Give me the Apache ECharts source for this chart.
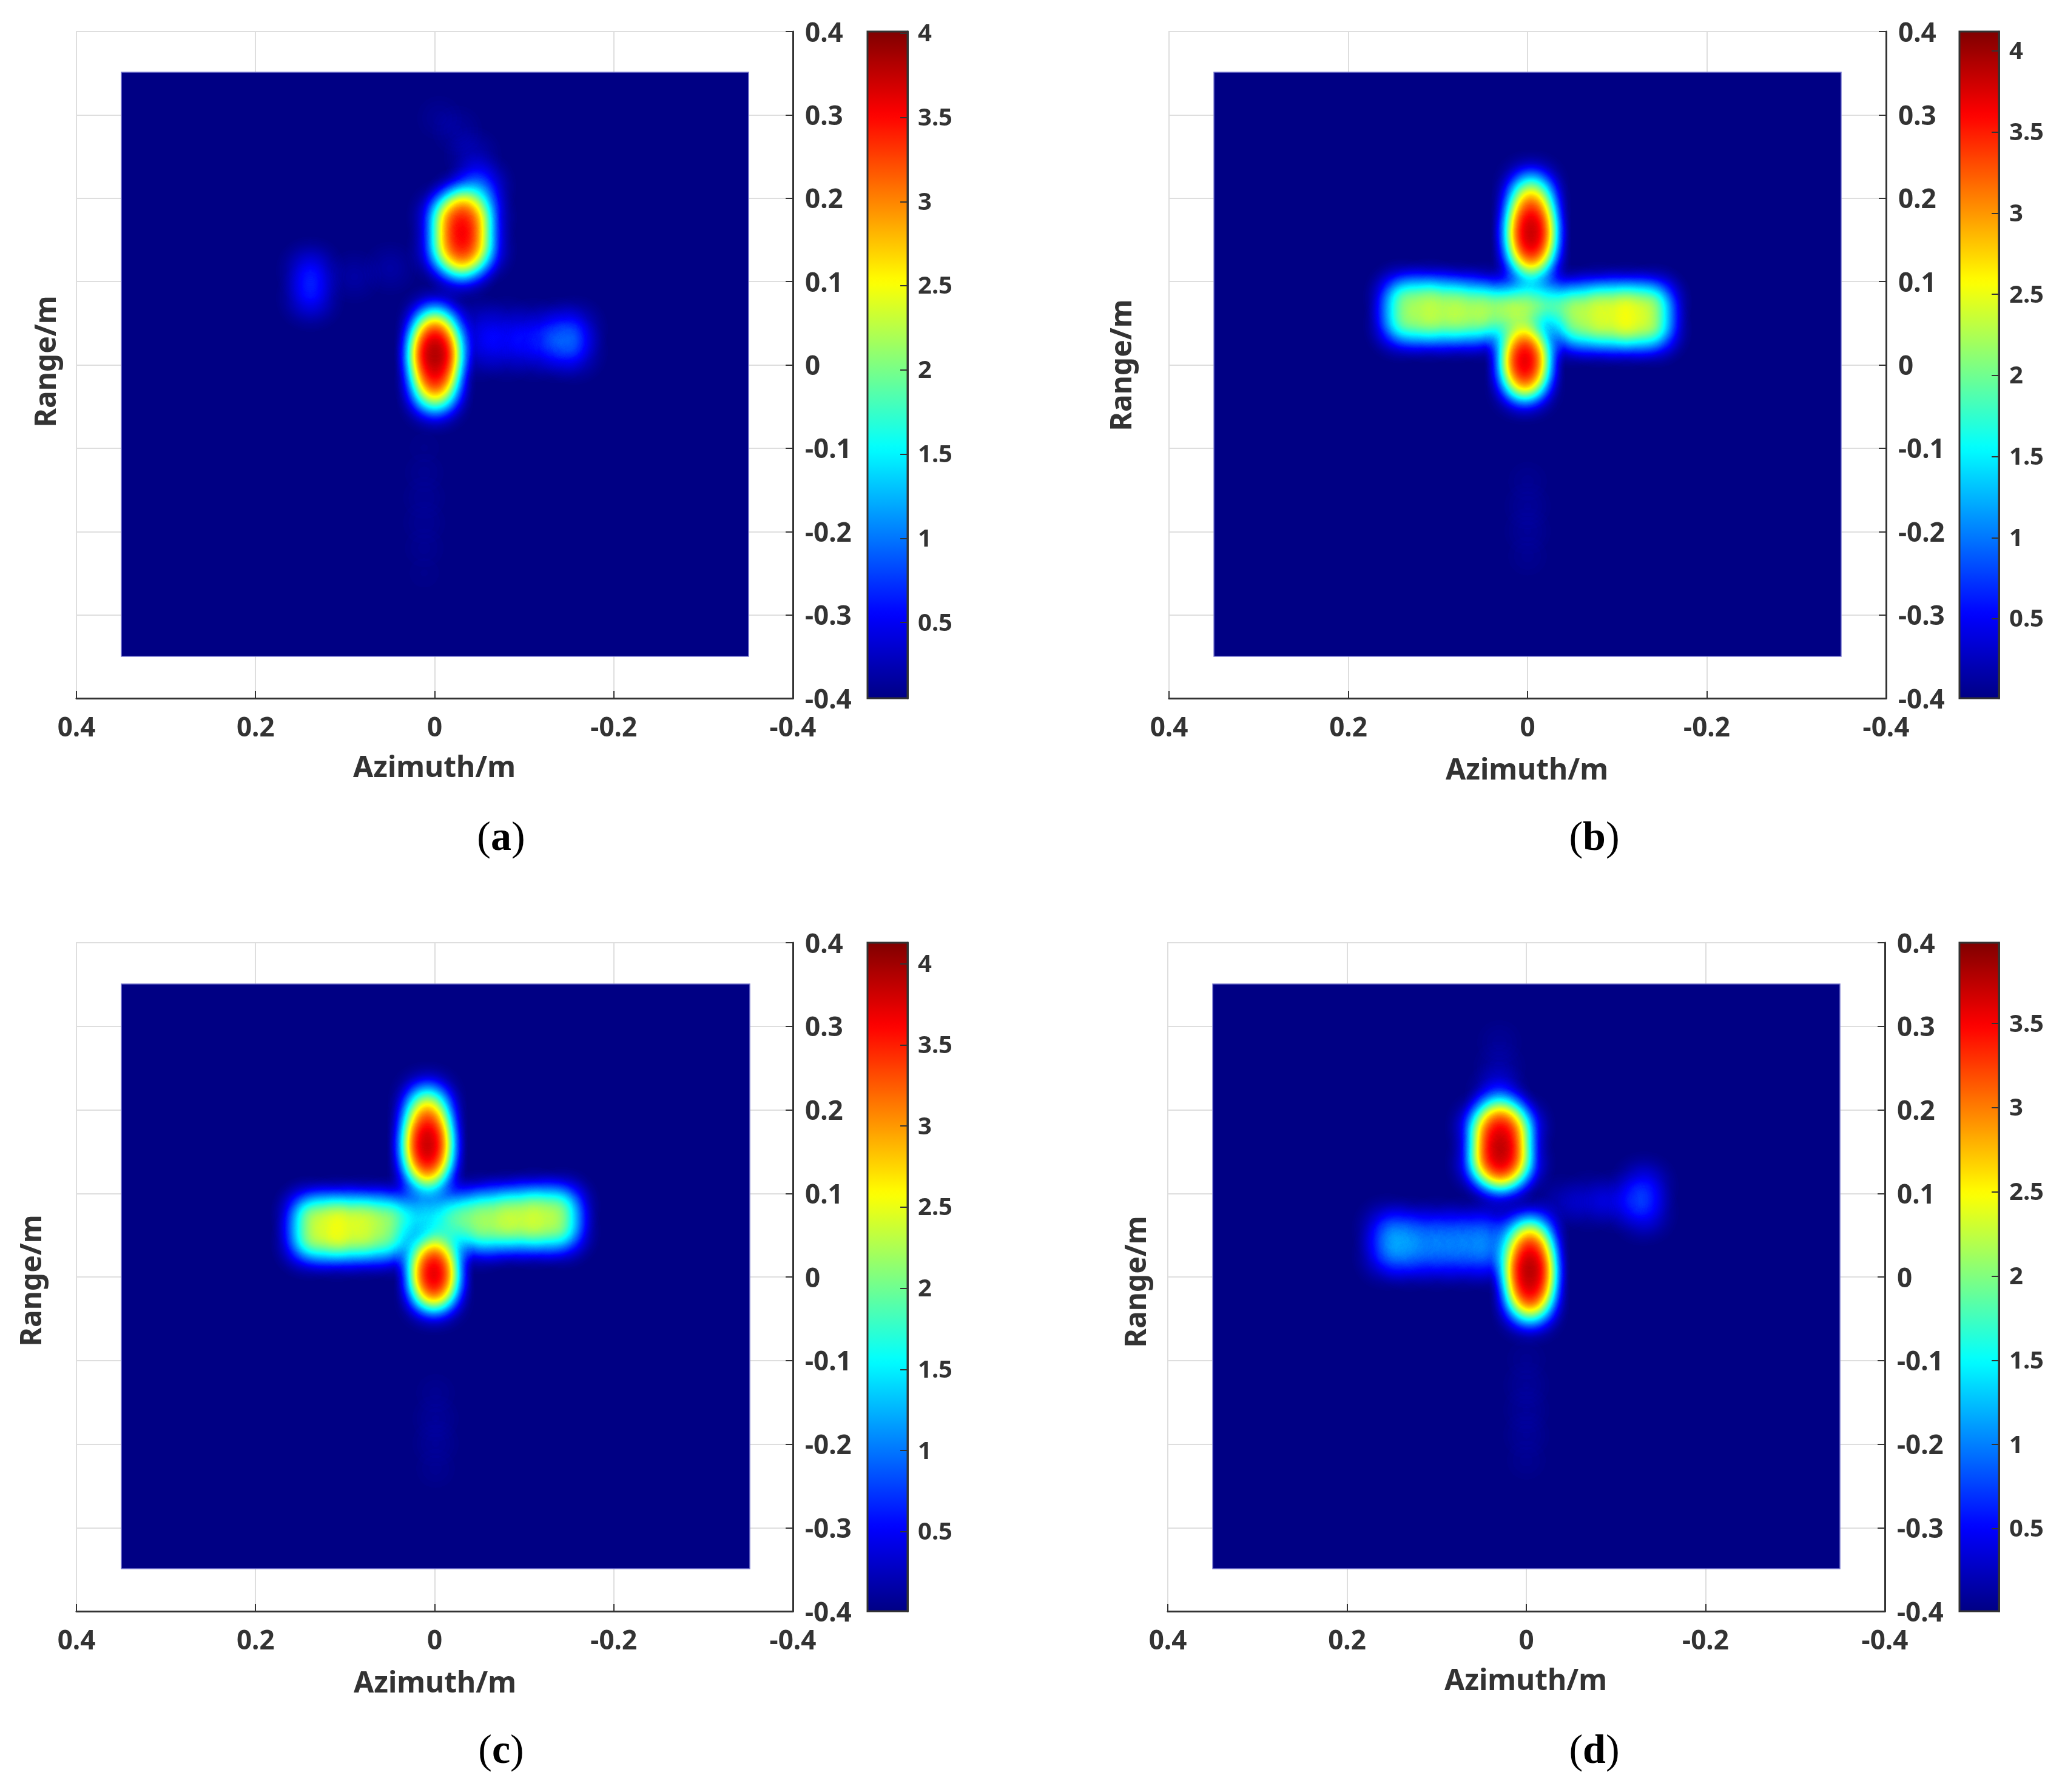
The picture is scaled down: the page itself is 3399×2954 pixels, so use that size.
<!DOCTYPE html>
<html>
<head>
<meta charset="utf-8">
<title>Azimuth-range images</title>
<script src="https://cdn.jsdelivr.net/npm/echarts@6/dist/echarts.min.js"></script>
<style>
  html, body { margin: 0; padding: 0; background: #fff; }
  #main { width: 3399px; height: 2954px; }
</style>
</head>
<body>
<div id="main"></div>
<script>
// samples: [azimuth m, range m, value]
const pointsA = [
  [-0.03, 0.19, 2.6], [-0.03, 0.172, 3.2], [-0.03, 0.157, 3.4], [-0.03, 0.142, 3.2], [-0.03, 0.122, 2.6],
  [-0.012, 0.176, 2.1], [-0.012, 0.138, 2.1], [-0.048, 0.176, 2.1], [-0.048, 0.138, 2.1],
  [-0.05, 0.212, 1.2], [-0.042, 0.25, 0.34], [-0.025, 0.28, 0.22], [-0.005, 0.295, 0.18],
  [0, 0.05, 2.3], [0, 0.034, 3.4], [0, 0.02, 3.7], [0, 0.012, 3.9], [0, 0.004, 3.7], [0, -0.01, 3.4], [0, -0.024, 3.2], [0, -0.04, 2.0],
  [-0.05, 0.046, 0.5], [-0.08, 0.044, 0.5], [-0.11, 0.042, 0.5], [-0.135, 0.042, 0.55], [-0.155, 0.042, 0.75],
  [-0.05, 0.016, 0.5], [-0.08, 0.016, 0.5], [-0.11, 0.016, 0.5], [-0.135, 0.016, 0.55], [-0.155, 0.016, 0.75],
  [0.139, 0.112, 0.8], [0.139, 0.08, 0.8], [0.09, 0.105, 0.26], [0.05, 0.115, 0.26],
  [0.012, -0.1, 0.11], [0.012, -0.13, 0.14], [0.012, -0.16, 0.16], [0.012, -0.19, 0.16], [0.012, -0.22, 0.14], [0.012, -0.25, 0.11]
];
const pointsB = [
  [-0.004, 0.21, 2.1], [-0.004, 0.192, 3.2], [-0.004, 0.175, 3.7], [-0.004, 0.163, 3.9], [-0.004, 0.152, 3.9], [-0.004, 0.14, 3.7], [-0.004, 0.122, 3.0],
  [0.14, 0.08, 2.45], [0.11, 0.08, 2.6], [0.08, 0.078, 2.45], [0.05, 0.076, 2.3], [0.02, 0.072, 2.0],
  [0.14, 0.048, 2.45], [0.11, 0.048, 2.6], [0.08, 0.048, 2.45], [0.05, 0.048, 2.3],
  [-0.14, 0.074, 2.7], [-0.11, 0.074, 3.0], [-0.08, 0.074, 2.8], [-0.05, 0.072, 2.5], [-0.02, 0.072, 2.0],
  [-0.14, 0.042, 2.7], [-0.11, 0.042, 3.0], [-0.08, 0.042, 2.7], [-0.05, 0.042, 2.3],
  [0, 0.07, 1.9], [0.02, 0.055, 1.3],
  [0.003, 0.03, 2.6], [0.003, 0.016, 3.6], [0.003, 0.004, 3.7], [0.003, -0.008, 3.6], [0.003, -0.024, 3.0],
  [0, -0.14, 0.11], [0, -0.17, 0.15], [0, -0.2, 0.15], [0, -0.23, 0.11]
];
const pointsC = [
  [0.009, 0.21, 2.1], [0.009, 0.192, 3.2], [0.009, 0.175, 3.7], [0.009, 0.163, 3.9], [0.009, 0.152, 3.9], [0.009, 0.14, 3.7], [0.009, 0.122, 3.0],
  [0.14, 0.074, 2.7], [0.11, 0.074, 3.0], [0.08, 0.074, 2.8], [0.05, 0.074, 2.5],
  [0.14, 0.042, 2.7], [0.11, 0.042, 3.0], [0.08, 0.042, 2.7], [0.05, 0.042, 2.3],
  [-0.14, 0.084, 2.45], [-0.11, 0.084, 2.6], [-0.08, 0.082, 2.45], [-0.05, 0.08, 2.3], [-0.02, 0.076, 2.0], [0.015, 0.072, 1.9],
  [-0.14, 0.054, 2.45], [-0.11, 0.054, 2.6], [-0.08, 0.054, 2.45], [-0.05, 0.05, 2.3],
  [-0.02, 0.055, 1.3],
  [0.002, 0.03, 2.6], [0.002, 0.016, 3.6], [0.002, 0.004, 3.7], [0.002, -0.008, 3.6], [0.002, -0.022, 3.0],
  [0, -0.14, 0.11], [0, -0.17, 0.15], [0, -0.2, 0.15], [0, -0.23, 0.11]
];
const pointsD = [
  [0.029, 0.192, 2.6], [0.029, 0.175, 3.3], [0.029, 0.16, 3.7], [0.029, 0.15, 3.7], [0.029, 0.138, 3.3], [0.029, 0.122, 2.6],
  [0.047, 0.178, 2.1], [0.047, 0.136, 2.1], [0.011, 0.178, 2.1], [0.011, 0.136, 2.1],
  [0.032, 0.218, 0.6], [0.03, 0.25, 0.22], [0.03, 0.28, 0.14],
  [-0.004, 0.052, 2.3], [-0.004, 0.036, 3.4], [-0.004, 0.02, 3.7], [-0.004, 0.01, 3.9], [-0.004, 0, 3.7], [-0.004, -0.012, 3.4], [-0.004, -0.024, 3.2], [-0.004, -0.038, 2.0],
  [0.155, 0.056, 1.0], [0.13, 0.054, 0.95], [0.1, 0.054, 0.95], [0.07, 0.054, 0.95], [0.04, 0.054, 1.0],
  [0.155, 0.026, 1.0], [0.13, 0.024, 0.95], [0.1, 0.024, 0.95], [0.07, 0.024, 0.95], [0.04, 0.024, 1.0],
  [-0.131, 0.108, 0.8], [-0.131, 0.078, 0.8], [-0.1, 0.09, 0.5], [-0.07, 0.09, 0.42], [-0.04, 0.088, 0.3],
  [0, -0.1, 0.11], [0, -0.13, 0.15], [0, -0.16, 0.15], [0, -0.19, 0.15], [0, -0.22, 0.11]
];

const rangeExtentA = [0.05, 4.01];
const rangeExtentB = [0.01, 4.12];
const rangeExtentC = [0.01, 4.13];
const rangeExtentD = [0.01, 3.98];

const colorTicks = [0.5, 1, 1.5, 2, 2.5, 3, 3.5, 4];
const colorTicksD = [0.5, 1, 1.5, 2, 2.5, 3, 3.5];
const captions = ['a', 'b', 'c', 'd'];

const jet = ['#000084', '#0000ff', '#0080ff', '#00ffff', '#80ff80', '#ffff00', '#ff8000', '#ff0000', '#800000'];
const textColor = '#333333';
const labelFont = '"Noto Sans", sans-serif';

// pixel layout of each sub-figure
const panels = [
  { left: 126, right: 1307, top: 52, bottom: 1151, heat: [200, 1234, 119, 1082], bar: [1430, 1496], az: [716, 1267], rg: [78, 596], cap: [826, 1383], pts: pointsA, ext: rangeExtentA, ticks: colorTicks },
  { left: 1927, right: 3109, top: 52, bottom: 1151, heat: [2001, 3035, 119, 1082], bar: [3230, 3295], az: [2517, 1271], rg: [1851, 602], cap: [2628, 1383], pts: pointsB, ext: rangeExtentB, ticks: colorTicks },
  { left: 126, right: 1307, top: 1554, bottom: 2656, heat: [200, 1236, 1622, 2586], bar: [1430, 1496], az: [717, 2776], rg: [54, 2111], cap: [826, 2888], pts: pointsC, ext: rangeExtentC, ticks: colorTicks },
  { left: 1925, right: 3107, top: 1554, bottom: 2656, heat: [1999, 3033, 1622, 2586], bar: [3230, 3295], az: [2515, 2772], rg: [1875, 2113], cap: [2628, 2888], pts: pointsD, ext: rangeExtentD, ticks: colorTicksD }
];

// the image footprint, -0.35..0.35 m on both axes
echarts.registerMap('square', {
  type: 'FeatureCollection',
  features: [{
    type: 'Feature',
    properties: { name: 'square' },
    geometry: { type: 'Polygon', coordinates: [[[-0.35, -0.35], [0.35, -0.35], [0.35, 0.35], [-0.35, 0.35], [-0.35, -0.35]]] }
  }]
});

const chart = echarts.init(document.getElementById('main'));

var grid = [], xAxis = [], yAxis = [], geo = [], series = [], visualMap = [], graphic = [], title = [];

panels.forEach(function (p, i) {
  // main axes
  grid.push({
    left: p.left, top: p.top, width: p.right - p.left, height: p.bottom - p.top,
    show: true, borderColor: '#dedede', borderWidth: 2, backgroundColor: 'transparent'
  });
  xAxis.push({
    gridIndex: i * 2, type: 'value', inverse: true, min: -0.4, max: 0.4, interval: 0.2,
    position: 'bottom',
    axisLine: { onZero: false, lineStyle: { color: textColor, width: 3 } },
    axisTick: { inside: true, length: 12, lineStyle: { color: textColor, width: 2 } },
    axisLabel: { margin: 28, color: textColor, fontSize: 44, fontWeight: 'bold', fontFamily: labelFont },
    splitLine: { show: true, lineStyle: { color: '#dedede', width: 2 } }
  });
  yAxis.push({
    gridIndex: i * 2, type: 'value', min: -0.4, max: 0.4, interval: 0.1,
    position: 'right',
    axisLine: { onZero: false, lineStyle: { color: textColor, width: 3 } },
    axisTick: { inside: true, length: 12, lineStyle: { color: textColor, width: 2 } },
    axisLabel: {
      margin: 20, formatter: '{v|{value}}',
      rich: { v: { padding: [8, 0, 0, 0], color: textColor, fontSize: 44, fontWeight: 'bold', fontFamily: labelFont } }
    },
    splitLine: { show: true, lineStyle: { color: '#dedede', width: 2 } }
  });
  // colour bar axes
  grid.push({
    left: p.bar[0], top: p.top, width: p.bar[1] - p.bar[0], height: p.bottom - p.top,
    show: true, borderColor: textColor, borderWidth: 3, backgroundColor: 'transparent', z: 5
  });
  xAxis.push({ gridIndex: i * 2 + 1, type: 'value', show: false, min: 0, max: 1 });
  yAxis.push({
    gridIndex: i * 2 + 1, type: 'value', position: 'right', min: p.ext[0], max: p.ext[1], z: 6,
    axisLine: { onZero: false, lineStyle: { color: textColor, width: 3 } },
    axisTick: { inside: true, length: 12, customValues: p.ticks, lineStyle: { color: textColor, width: 2 } },
    axisLabel: {
      margin: 17, customValues: p.ticks, formatter: '{v|{value}}',
      rich: { v: { padding: [4, 0, 0, 0], color: textColor, fontSize: 40, fontWeight: 'bold', fontFamily: labelFont } }
    },
    splitLine: { show: false }
  });

  geo.push({
    map: 'square', silent: true, z: 1, roam: false,
    left: p.heat[0], top: p.heat[2], width: p.heat[1] - p.heat[0], height: p.heat[3] - p.heat[2],
    aspectScale: 1,
    label: { show: false },
    itemStyle: { areaColor: jet[0], borderColor: '#7a7ad0', borderWidth: 1.5 },
    emphasis: { disabled: true }
  });
  series.push({
    type: 'heatmap', coordinateSystem: 'geo', geoIndex: i, z: 2,
    pointSize: 28, blurSize: 42, minOpacity: 1, maxOpacity: 1,
    data: p.pts.map(function (d) { return [-d[0], d[1], d[2]]; })
  });
  visualMap.push({
    type: 'continuous', seriesIndex: i, min: p.ext[0], max: p.ext[1],
    left: p.bar[0], top: p.top, itemWidth: p.bar[1] - p.bar[0], itemHeight: p.bottom - p.top,
    padding: 0, calculable: false, hoverLink: false, text: null, z: 1,
    inRange: { color: jet }
  });

  graphic.push({
    type: 'text', x: p.az[0], y: p.az[1],
    style: { text: 'Azimuth/m', fill: textColor, font: 'bold 48px ' + labelFont, textAlign: 'center', textVerticalAlign: 'middle' }
  });
  graphic.push({
    type: 'text', x: p.rg[0], y: p.rg[1], rotation: Math.PI / 2,
    style: { text: 'Range/m', fill: textColor, font: 'bold 48px ' + labelFont, textAlign: 'center', textVerticalAlign: 'middle' }
  });
  title.push({
    text: '{p|(}{b|' + captions[i] + '}{p|)}',
    left: p.cap[0], top: p.cap[1], textAlign: 'center', textVerticalAlign: 'middle', padding: 0,
    textStyle: {
      fontWeight: 'normal',
      rich: {
        p: { fontFamily: '"Liberation Serif", serif', fontSize: 68, fontWeight: 'normal', color: '#000' },
        b: { fontFamily: '"Liberation Serif", serif', fontSize: 68, fontWeight: 'bold', color: '#000' }
      }
    }
  });
});

var option = {
  backgroundColor: '#ffffff',
  animation: false,
  title: title,
  grid: grid,
  xAxis: xAxis,
  yAxis: yAxis,
  geo: geo,
  visualMap: visualMap,
  series: series,
  graphic: graphic
};

chart.setOption(option);
</script>
</body>
</html>
